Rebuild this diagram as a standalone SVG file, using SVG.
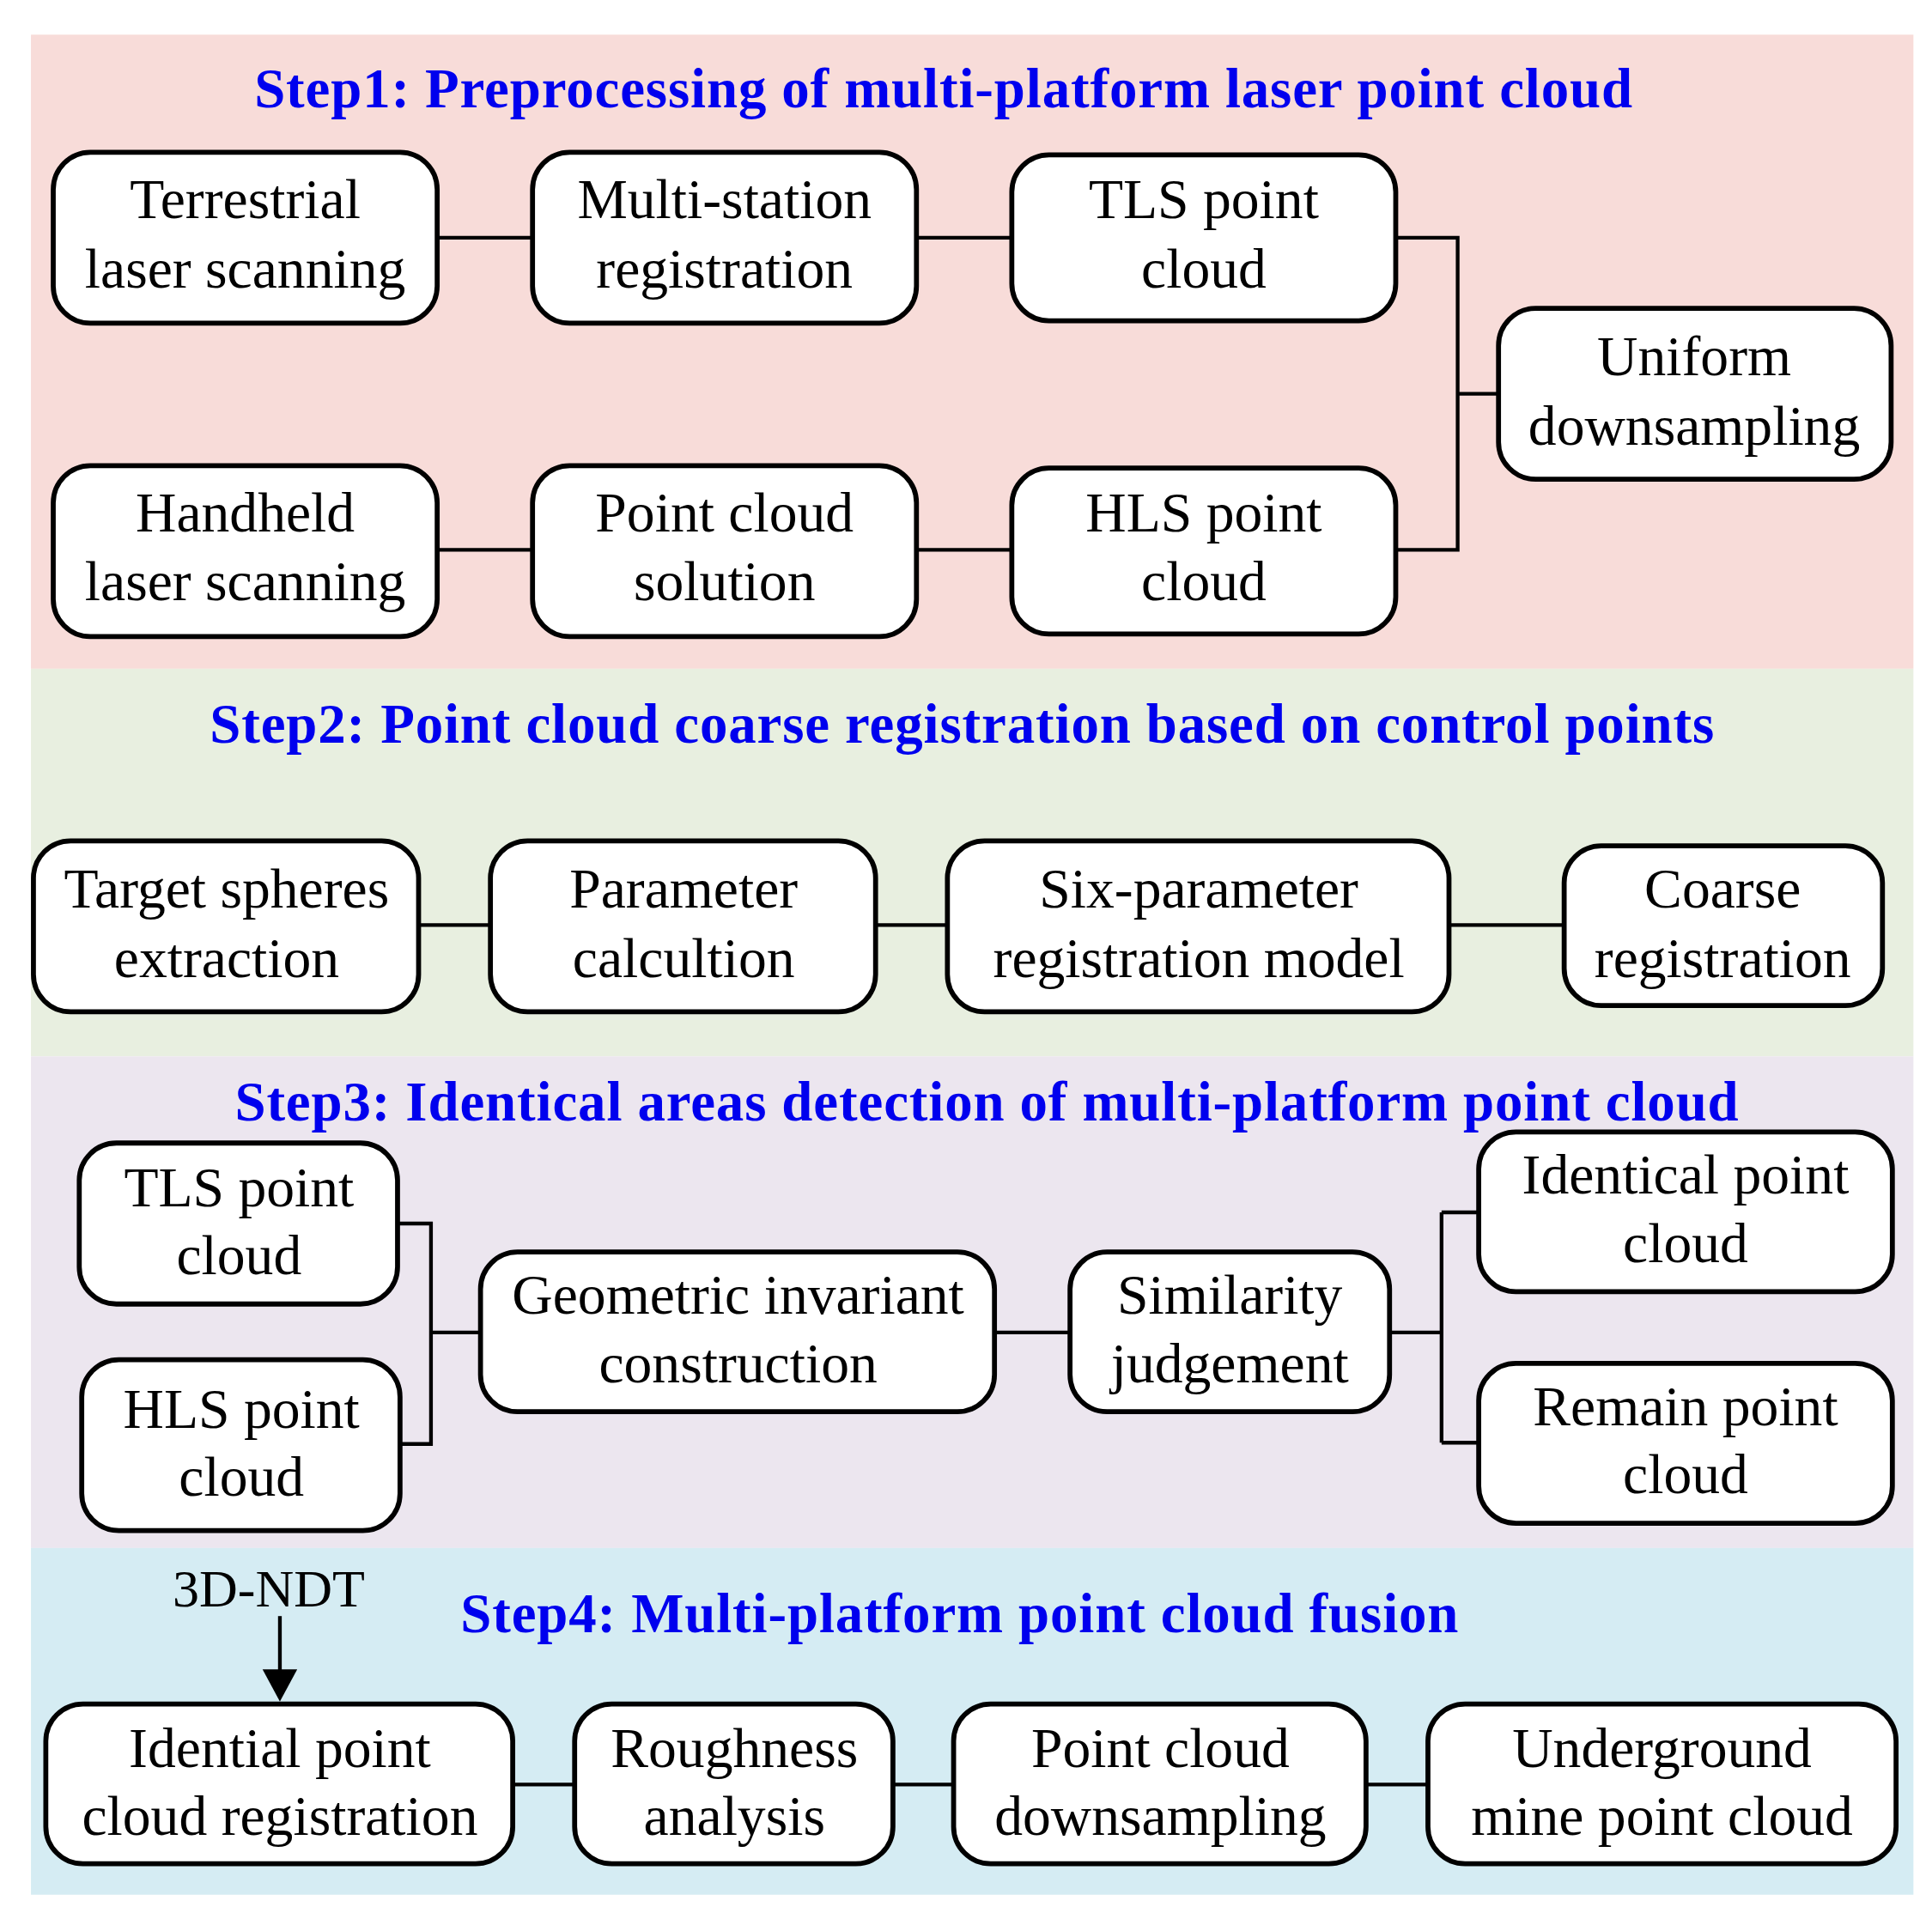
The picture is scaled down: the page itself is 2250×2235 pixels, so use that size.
<svg xmlns="http://www.w3.org/2000/svg" width="2250" height="2235" viewBox="0 0 2250 2235">
<style>
.b{fill:#fff;stroke:#000;stroke-width:4}
.t{font-family:"Liberation Serif",serif;font-size:45.5px;text-anchor:middle;fill:#000}
.h{font-family:"Liberation Serif",serif;font-size:45px;font-weight:bold;text-anchor:middle;fill:#0000ee;letter-spacing:0.6px}
.c{fill:none;stroke:#000;stroke-width:3}
</style>
<rect width="2250" height="2235" fill="#fff"/>
<g transform="scale(1.4423)">
<rect x="25" y="28" width="1520" height="512" fill="#f8dcd9"/>
<rect x="25" y="540" width="1520" height="313" fill="#e8efe0"/>
<rect x="25" y="853" width="1520" height="397" fill="#ece6ef"/>
<rect x="25" y="1250" width="1520" height="280" fill="#d5ecf3"/>
<text class="h" x="762" y="87">Step1: Preprocessing of multi-platform laser point cloud</text>
<text class="h" x="777" y="600">Step2: Point cloud coarse registration based on control points</text>
<text class="h" x="797" y="905">Step3: Identical areas detection of multi-platform point cloud</text>
<text class="h" x="775" y="1318">Step4: Multi-platform point cloud fusion</text>
<text class="t" x="217" y="1297" style="font-size:43px">3D-NDT</text>
<g id="connectors">
<path class="c" d="M353,192H430M740,192H817M1127,192H1177V444H1127M1177,318H1210M353,444H430M740,444H817"/>
<path class="c" d="M338,747H396M707,747H765M1170,747H1263"/>
<path class="c" d="M321,988H348V1166H323M348,1076H388M803,1076H864M1122,1076H1164M1164,979V1165M1164,979H1194M1164,1165H1194"/>
<path class="c" d="M414,1441H464M721,1441H770M1103,1441H1153"/>
<path class="c" d="M226,1305V1352"/>
<path d="M212,1348L226,1374L240,1348z"/>
</g>
<g id="n1"><rect class="b" x="43" y="123" width="310" height="138" rx="30"/><text class="t" x="198" y="176">Terrestrial</text><text class="t" x="198" y="232">laser scanning</text></g>
<g id="n2"><rect class="b" x="430" y="123" width="310" height="138" rx="30"/><text class="t" x="585" y="176">Multi-station</text><text class="t" x="585" y="232">registration</text></g>
<g id="n3"><rect class="b" x="817" y="125" width="310" height="134" rx="30"/><text class="t" x="972" y="176">TLS point</text><text class="t" x="972" y="232">cloud</text></g>
<g id="n4"><rect class="b" x="1210" y="249" width="317" height="138" rx="30"/><text class="t" x="1368" y="303">Uniform</text><text class="t" x="1368" y="359">downsampling</text></g>
<g id="n5"><rect class="b" x="43" y="376" width="310" height="138" rx="30"/><text class="t" x="198" y="429">Handheld</text><text class="t" x="198" y="485">laser scanning</text></g>
<g id="n6"><rect class="b" x="430" y="376" width="310" height="138" rx="30"/><text class="t" x="585" y="429">Point cloud</text><text class="t" x="585" y="485">solution</text></g>
<g id="n7"><rect class="b" x="817" y="378" width="310" height="134" rx="30"/><text class="t" x="972" y="429">HLS point</text><text class="t" x="972" y="485">cloud</text></g>
<g id="n8"><rect class="b" x="27" y="679" width="311" height="138" rx="30"/><text class="t" x="183" y="733">Target spheres</text><text class="t" x="183" y="789">extraction</text></g>
<g id="n9"><rect class="b" x="396" y="679" width="311" height="138" rx="30"/><text class="t" x="552" y="733">Parameter</text><text class="t" x="552" y="789">calcultion</text></g>
<g id="n10"><rect class="b" x="765" y="679" width="405" height="138" rx="30"/><text class="t" x="968" y="733">Six-parameter</text><text class="t" x="968" y="789">registration model</text></g>
<g id="n11"><rect class="b" x="1263" y="683" width="257" height="129" rx="30"/><text class="t" x="1391" y="733">Coarse</text><text class="t" x="1391" y="789">registration</text></g>
<g id="n12"><rect class="b" x="64" y="923" width="257" height="130" rx="30"/><text class="t" x="193" y="974">TLS point</text><text class="t" x="193" y="1029">cloud</text></g>
<g id="n13"><rect class="b" x="66" y="1098" width="257" height="138" rx="30"/><text class="t" x="195" y="1153">HLS point</text><text class="t" x="195" y="1208">cloud</text></g>
<g id="n14"><rect class="b" x="388" y="1011" width="415" height="129" rx="30"/><text class="t" x="596" y="1061">Geometric invariant</text><text class="t" x="596" y="1116">construction</text></g>
<g id="n15"><rect class="b" x="864" y="1011" width="258" height="129" rx="30"/><text class="t" x="993" y="1061">Similarity</text><text class="t" x="993" y="1116">judgement</text></g>
<g id="n16"><rect class="b" x="1194" y="914" width="334" height="129" rx="30"/><text class="t" x="1361" y="964">Identical point</text><text class="t" x="1361" y="1019">cloud</text></g>
<g id="n17"><rect class="b" x="1194" y="1101" width="334" height="129" rx="30"/><text class="t" x="1361" y="1151">Remain point</text><text class="t" x="1361" y="1206">cloud</text></g>
<g id="n18"><rect class="b" x="37" y="1376" width="377" height="129" rx="30"/><text class="t" x="226" y="1427">Idential point</text><text class="t" x="226" y="1482">cloud registration</text></g>
<g id="n19"><rect class="b" x="464" y="1376" width="257" height="129" rx="30"/><text class="t" x="593" y="1427">Roughness</text><text class="t" x="593" y="1482">analysis</text></g>
<g id="n20"><rect class="b" x="770" y="1376" width="333" height="129" rx="30"/><text class="t" x="937" y="1427">Point cloud</text><text class="t" x="937" y="1482">downsampling</text></g>
<g id="n21"><rect class="b" x="1153" y="1376" width="378" height="129" rx="30"/><text class="t" x="1342" y="1427">Underground</text><text class="t" x="1342" y="1482">mine point cloud</text></g>
</g>
</svg>
